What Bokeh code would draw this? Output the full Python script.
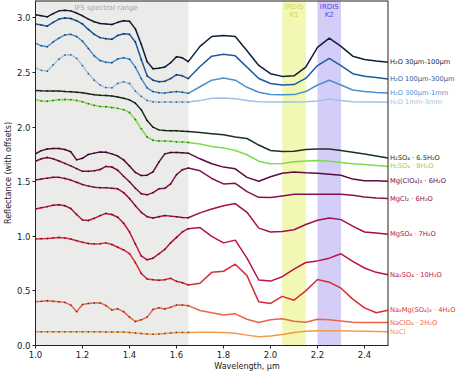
from bokeh.plotting import figure
from bokeh.models import (BoxAnnotation, Label, Range1d, PrintfTickFormatter, FixedTicker,
                          Span, ColumnDataSource)
from bokeh.core.properties import value
from bokeh.embed import file_html
from bokeh.resources import INLINE

# wavelength grid (um): IFS range sampled every 0.025, beyond every 0.05
wavelength = [1.0, 1.025, 1.05, 1.075, 1.1, 1.125, 1.15, 1.175, 1.2, 1.225, 1.25, 1.275, 1.3,
              1.325, 1.35, 1.375, 1.4, 1.425, 1.45, 1.475, 1.5, 1.525, 1.55, 1.575, 1.6, 1.625, 1.65,
              1.7, 1.75, 1.8, 1.85, 1.9, 1.95, 2.0, 2.05, 2.1, 2.15, 2.2, 2.25, 2.3, 2.35, 2.4, 2.45, 2.5]

h2o_30_100 = [3.03, 3.02, 3.01, 3.04, 3.065, 3.07, 3.065, 3.045, 3.02, 2.99, 2.965, 2.95, 2.945, 2.94, 2.96, 2.975, 2.97, 2.90,
              2.76, 2.60, 2.535, 2.54, 2.55, 2.59, 2.645, 2.635, 2.60,
              2.74, 2.83, 2.84, 2.83, 2.70, 2.565, 2.49, 2.465, 2.47, 2.55, 2.73, 2.815, 2.74, 2.65, 2.62, 2.605, 2.595]
h2o_100_300 = [2.945, 2.935, 2.925, 2.96, 2.99, 3.0, 2.995, 2.975, 2.945, 2.895, 2.85, 2.82, 2.81, 2.805, 2.84, 2.855, 2.85, 2.78,
               2.62, 2.47, 2.43, 2.415, 2.42, 2.445, 2.48, 2.47, 2.445,
               2.555, 2.65, 2.668, 2.653, 2.55, 2.446, 2.40, 2.386, 2.39, 2.446, 2.564, 2.63, 2.564, 2.49, 2.466, 2.454, 2.44]
h2o_300_1mm = [2.77, 2.745, 2.736, 2.78, 2.816, 2.845, 2.85, 2.83, 2.787, 2.72, 2.653, 2.61, 2.594, 2.59, 2.625, 2.635, 2.623, 2.55,
               2.445, 2.36, 2.326, 2.315, 2.312, 2.32, 2.326, 2.32, 2.31,
               2.37, 2.43, 2.45, 2.43, 2.365, 2.32, 2.30, 2.297, 2.298, 2.326, 2.386, 2.43, 2.386, 2.34, 2.326, 2.317, 2.312]
h2o_1_3mm = [2.543, 2.52, 2.513, 2.57, 2.624, 2.66, 2.662, 2.63, 2.564, 2.49, 2.43, 2.385, 2.362, 2.36, 2.40, 2.415, 2.40, 2.33,
             2.282, 2.245, 2.232, 2.23, 2.23, 2.23, 2.23, 2.23, 2.23,
             2.243, 2.265, 2.267, 2.26, 2.243, 2.232, 2.23, 2.23, 2.23, 2.232, 2.24, 2.258, 2.243, 2.232, 2.23, 2.23, 2.228]
h2so4_65 = [2.335, 2.333, 2.332, 2.33, 2.33, 2.327, 2.325, 2.32, 2.315, 2.305, 2.297, 2.292, 2.29, 2.285, 2.276, 2.265, 2.25, 2.22,
            2.16, 2.06, 2.0, 1.975, 1.97, 1.968, 1.966, 1.963, 1.96,
            1.95, 1.94, 1.93, 1.91, 1.896, 1.836, 1.786, 1.777, 1.78, 1.795, 1.80, 1.80, 1.786, 1.77, 1.753, 1.735, 1.717]
h2so4_8 = [2.252, 2.24, 2.237, 2.245, 2.252, 2.253, 2.252, 2.245, 2.232, 2.215, 2.20, 2.19, 2.187, 2.18, 2.172, 2.16, 2.134, 2.07,
           1.985, 1.91, 1.88, 1.873, 1.872, 1.87, 1.866, 1.863, 1.86,
           1.845, 1.822, 1.81, 1.786, 1.747, 1.688, 1.664, 1.667, 1.682, 1.69, 1.694, 1.688, 1.676, 1.664, 1.658, 1.649, 1.64]
mgclo4 = [1.756, 1.785, 1.80, 1.805, 1.805, 1.795, 1.775, 1.70, 1.715, 1.75, 1.762, 1.772, 1.77, 1.755, 1.735, 1.70, 1.645, 1.585,
          1.556, 1.56, 1.59, 1.68, 1.755, 1.768, 1.768, 1.765, 1.762,
          1.71, 1.665, 1.634, 1.618, 1.54, 1.505, 1.545, 1.578, 1.59, 1.582, 1.578, 1.569, 1.56, 1.524, 1.51, 1.51, 1.504]
mgcl2 = [1.688, 1.71, 1.722, 1.71, 1.69, 1.668, 1.645, 1.62, 1.595, 1.595, 1.60, 1.612, 1.64, 1.635, 1.605, 1.55, 1.50, 1.44,
         1.39, 1.38, 1.40, 1.435, 1.44, 1.48, 1.565, 1.61, 1.625,
         1.60, 1.53, 1.48, 1.485, 1.41, 1.357, 1.355, 1.37, 1.385, 1.385, 1.385, 1.385, 1.385, 1.376, 1.361, 1.352, 1.346]
mgso4 = [1.515, 1.525, 1.533, 1.54, 1.54, 1.53, 1.515, 1.495, 1.474, 1.46, 1.45, 1.446, 1.444, 1.44, 1.435, 1.40, 1.346, 1.28,
         1.22, 1.18, 1.168, 1.18, 1.19, 1.185, 1.18, 1.172, 1.17,
         1.215, 1.25, 1.28, 1.30, 1.22, 1.075, 1.04, 1.045, 1.06, 1.108, 1.147, 1.168, 1.153, 1.094, 1.04, 1.03, 1.02]
na2so4 = [1.25, 1.262, 1.272, 1.285, 1.29, 1.28, 1.255, 1.20, 1.15, 1.145, 1.165, 1.19, 1.21, 1.20, 1.175, 1.12, 1.04, 0.93,
          0.82, 0.785, 0.80, 0.84, 0.88, 0.94, 0.99, 1.04, 1.07,
          1.08, 1.00, 0.94, 0.965, 0.80, 0.60, 0.59, 0.63, 0.70, 0.76, 0.775, 0.80, 0.84, 0.77, 0.71, 0.67, 0.648]
na2mg = [0.975, 0.978, 0.98, 0.985, 0.99, 0.985, 0.975, 0.96, 0.945, 0.935, 0.93, 0.932, 0.94, 0.925, 0.90, 0.875, 0.841, 0.76,
         0.66, 0.61, 0.603, 0.598, 0.603, 0.615, 0.588, 0.575, 0.555,
         0.57, 0.67, 0.68, 0.745, 0.64, 0.40, 0.385, 0.45, 0.415, 0.50, 0.605, 0.58, 0.525, 0.425, 0.345, 0.30, 0.322]
naclo4 = [0.401, 0.405, 0.41, 0.405, 0.40, 0.395, 0.37, 0.31, 0.375, 0.385, 0.39, 0.39, 0.366, 0.325, 0.336, 0.31, 0.26, 0.22,
          0.235, 0.26, 0.33, 0.345, 0.335, 0.35, 0.37, 0.37, 0.365,
          0.32, 0.30, 0.28, 0.29, 0.24, 0.21, 0.235, 0.245, 0.222, 0.213, 0.24, 0.235, 0.225, 0.212, 0.21, 0.21, 0.21]
nacl = [0.125, 0.125, 0.125, 0.125, 0.125, 0.125, 0.125, 0.125, 0.125, 0.125, 0.125, 0.125, 0.124, 0.124, 0.124, 0.123, 0.12, 0.115,
        0.11, 0.106, 0.104, 0.106, 0.11, 0.115, 0.12, 0.12, 0.12,
        0.122, 0.122, 0.12, 0.113, 0.095, 0.08, 0.088, 0.10, 0.12, 0.13, 0.135, 0.136, 0.135, 0.132, 0.13, 0.128, 0.125]

labels = ["H₂O 30µm-100µm", "H₂O 100µm-300µm", "H₂O 300µm-1mm", "H₂O 1mm-3mm",
          "H₂SO₄ · 6.5H₂O", "H₂SO₄ · 8H₂O", "Mg(ClO₄)₂ · 6H₂O", "MgCl₂ · 6H₂O",
          "MgSO₄ · 7H₂O", "Na₂SO₄ · 10H₂O", "Na₂Mg(SO₄)₂ · 4H₂O", "NaClO₄ · 2H₂O", "NaCl"]
colors = ["#0d1f3c", "#1f5a9e", "#4a8fd0", "#9ec3e6", "#1a3320", "#7ddc4c", "#5a0d40",
          "#86104f", "#a0104c", "#bc1244", "#dc2a3a", "#ec6448", "#f29a48"]
spectra = [h2o_30_100, h2o_100_300, h2o_300_1mm, h2o_1_3mm, h2so4_65, h2so4_8, mgclo4,
           mgcl2, mgso4, na2so4, na2mg, naclo4, nacl]

ifs_range = [1.0, 1.65]
k1_band = [2.05, 2.15]
k2_band = [2.2, 2.3]
x_ticks = [1.0, 1.2, 1.4, 1.6, 1.8, 2.0, 2.2, 2.4]
y_ticks = [0.0, 0.5, 1.0, 1.5, 2.0, 2.5, 3.0]
x_axis_span = [1.0, 2.5]
y_top = 3.16
x_view_end = 2.8   # extra room right of the axes for the curve names

FONT = "DejaVu Sans"
SPINE = "#222222"

p = figure(width=458, height=373, output_backend="svg", toolbar_location=None,
           x_range=Range1d(1.0, x_view_end), y_range=Range1d(0.0, y_top),
           min_border_left=0, min_border_right=0, min_border_top=0, min_border_bottom=0)
p.background_fill_color = "white"
p.xgrid.visible = False
p.ygrid.visible = False
p.outline_line_color = None

p.add_layout(BoxAnnotation(left=ifs_range[0], right=ifs_range[1], fill_color="#ebebe9", fill_alpha=1.0,
                           line_color=None, level="underlay"))
p.add_layout(BoxAnnotation(left=k1_band[0], right=k1_band[1], fill_color="#f2f7b4", fill_alpha=1.0,
                           line_color=None, level="underlay"))
p.add_layout(BoxAnnotation(left=k2_band[0], right=k2_band[1], fill_color="#d3cdf8", fill_alpha=1.0,
                           line_color=None, level="underlay"))

ifs_mask = [w <= ifs_range[1] for w in wavelength]
for vals, col in zip(spectra, colors):
    p.line(wavelength, vals, line_color=col, line_width=1.5)
    xs = [w for w, m in zip(wavelength, ifs_mask) if m]
    ys = [v for v, m in zip(vals, ifs_mask) if m]
    p.scatter(xs, ys, marker="circle", size=1.8, fill_color="black", line_color=None, fill_alpha=0.55)

# curve names, placed at each spectrum's last point
name_src = ColumnDataSource(dict(x=[wavelength[-1]] * len(spectra), y=[s[-1] for s in spectra],
                                 text=labels, color=colors))
p.text(x="x", y="y", text="text", text_color="color", source=name_src, x_offset=2,
       text_font=value(FONT), text_font_size="6.7px", text_baseline="middle", text_align="left")

# spines: right and top
p.add_layout(Span(location=x_axis_span[1], dimension="height", line_color=SPINE, line_width=1))
p.segment(x0=[x_axis_span[0]], y0=[y_top], x1=[x_axis_span[1]], y1=[y_top], line_color=SPINE, line_width=2)

p.add_layout(Label(x=1.3, y=y_top, y_offset=-3, text="IFS spectral range", text_color="#a6a6a6",
                   text_font=FONT, text_font_size="7px", text_align="center", text_baseline="top"))
for band, tag, col in [(k1_band, "K1", "#d2d85c"), (k2_band, "K2", "#5548e0")]:
    xc = (band[0] + band[1]) / 2
    p.add_layout(Label(x=xc, y=y_top, y_offset=-2, text="IRDIS", text_color=col, text_font=FONT,
                       text_font_size="7px", text_align="center", text_baseline="top"))
    p.add_layout(Label(x=xc, y=y_top, y_offset=-10, text=tag, text_color=col, text_font=FONT,
                       text_font_size="7px", text_align="center", text_baseline="top"))

for ax in (p.xaxis[0], p.yaxis[0]):
    ax.axis_line_color = SPINE
    ax.major_tick_line_color = SPINE
    ax.major_tick_in = 0
    ax.major_tick_out = 3
    ax.minor_tick_line_color = None
    ax.major_label_text_font = FONT
    ax.major_label_text_font_size = "8.5px"
    ax.major_label_text_color = "#222222"
    ax.axis_label_text_font = FONT
    ax.axis_label_text_font_size = "8px"
    ax.axis_label_text_font_style = "normal"
    ax.axis_label_text_color = "#222222"
    ax.major_label_standoff = 2
    ax.axis_label_standoff = 1
    ax.formatter = PrintfTickFormatter(format="%.1f")

p.xaxis.bounds = (x_axis_span[0], x_axis_span[1])
p.xaxis.ticker = FixedTicker(ticks=x_ticks)
p.yaxis.ticker = FixedTicker(ticks=y_ticks)
p.xaxis.axis_label = "Wavelength, µm"
p.yaxis.axis_label = "Reflectance (with offsets)"

open("out.html", "w").write(file_html(p, INLINE))
